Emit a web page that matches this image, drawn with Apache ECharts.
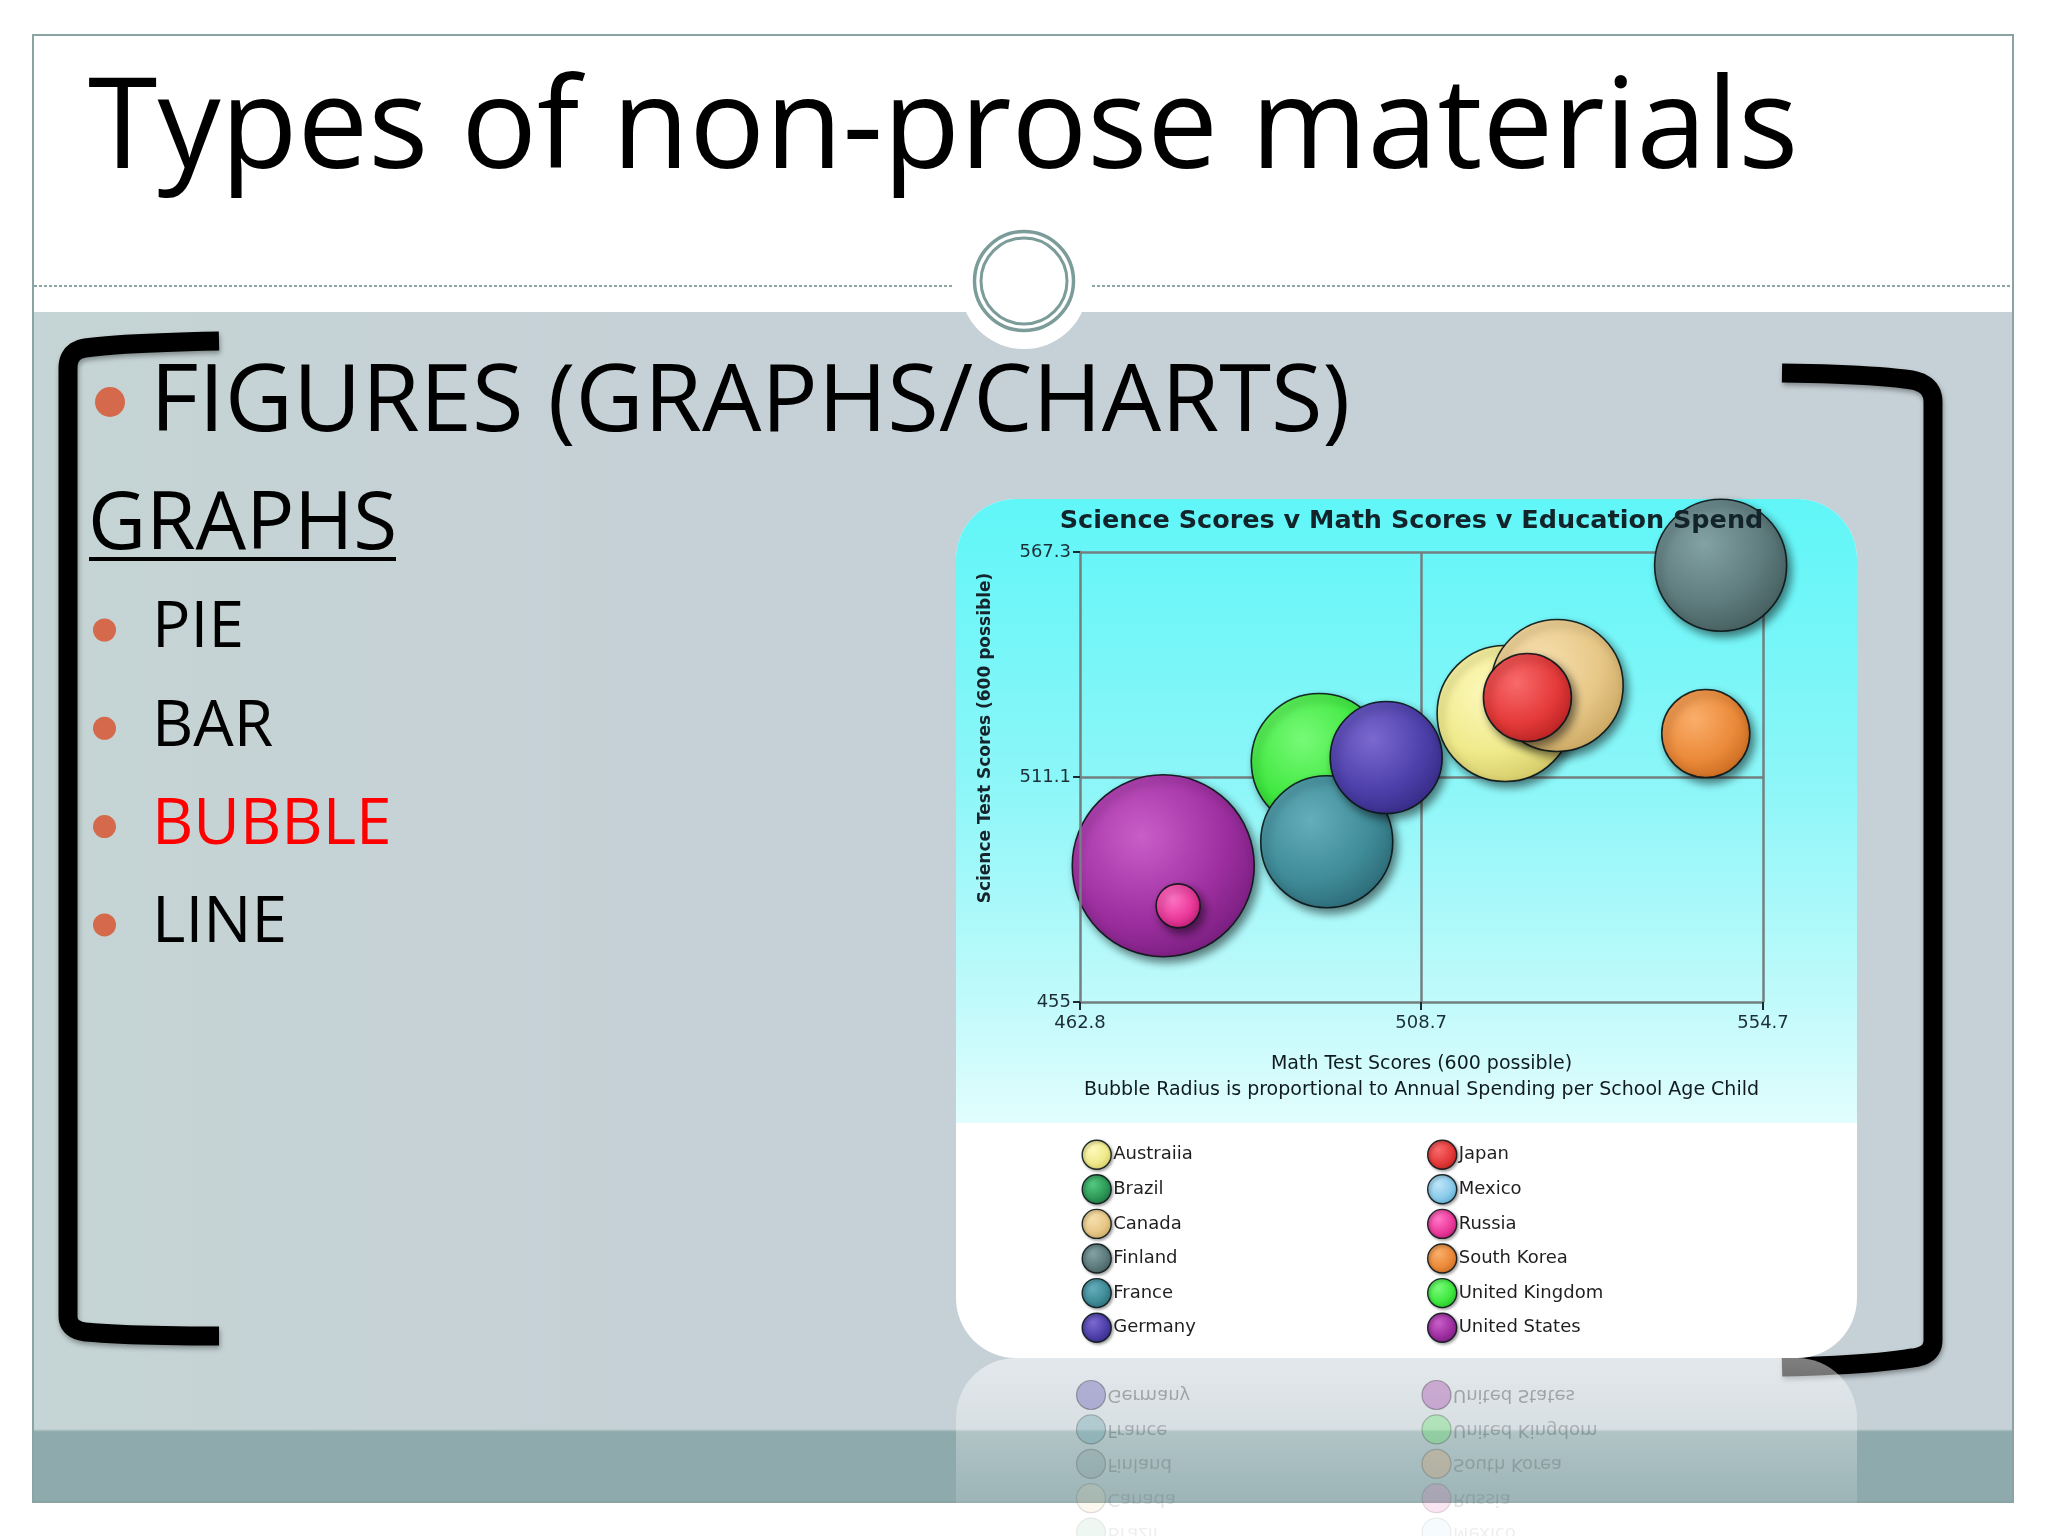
<!DOCTYPE html>
<html>
<head>
<meta charset="utf-8">
<script src="https://cdn.jsdelivr.net/npm/echarts@6/dist/echarts.min.js"></script>
<style>
html,body{margin:0;padding:0;background:#ffffff;}
#chart{width:2048px;height:1536px;}
</style>
</head>
<body>
<div id="chart"></div>
<script>
// ---------------- text content ----------------
const slideTitle = 'Types of non-prose materials';
const headingText = 'FIGURES (GRAPHS/CHARTS)';
const subHeading = 'GRAPHS';
const bulletItems = ['PIE', 'BAR', 'BUBBLE', 'LINE'];
const chartTitle = 'Science Scores v Math Scores v Education Spend';
const xAxisName = 'Math Test Scores (600 possible)';
const xAxisNote = 'Bubble Radius is proportional to Annual Spending per School Age Child';
const yAxisName = 'Science Test Scores (600 possible)';

// ---------------- axis ticks ----------------
const xTicks = [462.8, 508.7, 554.7];
const yTicks = [455, 511.1, 567.3];

// ---------------- data (legend order) ----------------
const countries = ['Austraiia', 'Brazil', 'Canada', 'Finland', 'France', 'Germany',
                   'Japan', 'Mexico', 'Russia', 'South Korea', 'United Kingdom', 'United States'];
const mathScores    = [520, 370, 527, 549, 496, 504, 523, 406, 476, 547, 495, 474];
const scienceScores = [527, 390, 534, 564, 495, 516, 531, 410, 479, 522, 515, 489];
// annual spending per school-age child (relative units, read from bubble radii)
const spending      = [6800, 1800, 6600, 6600, 6600, 5600, 4400, 2400, 2200, 4400, 6800, 9100];

// ---------------- styles ----------------
const palette = {
  'Austraiia':      ['#fdf9bc', '#efea8b', '#d2c766'],
  'Brazil':         ['#55c880', '#2e9b58', '#1d7040'],
  'Canada':         ['#f6dfad', '#e7c787', '#c9a660'],
  'Finland':        ['#83a2a4', '#5e7b7d', '#455e5e'],
  'France':         ['#64adba', '#408c99', '#2c6a76'],
  'Germany':        ['#7b69cf', '#4e40ab', '#352b84'],
  'Japan':          ['#f86a6a', '#e53a3a', '#b82222'],
  'Mexico':         ['#bde5f7', '#8ccbea', '#5aa8d0'],
  'Russia':         ['#ff76c6', '#ec3b9c', '#bf1e77'],
  'South Korea':    ['#faae6b', '#eb8a3a', '#c86a20'],
  'United Kingdom': ['#78fa78', '#40e840', '#22be22'],
  'United States':  ['#c95ec8', '#9f30a1', '#781d7e']
};
const drawOrder = ['United States', 'United Kingdom', 'France', 'Germany', 'Russia',
                   'Austraiia', 'Canada', 'Japan', 'South Korea', 'Finland', 'Brazil', 'Mexico'];
const RADIUS_PER_UNIT = 0.01;   // px of radius per spending unit
const AXIS_COLOR = '#737f80';
const LABEL_FONT = 'DejaVu Sans';
const CHART_FONT = 'DejaVu Sans';
const SLIDE_FONT = 'Open Sans';

function bubbleFill(name) {
  const c = palette[name];
  return {
    type: 'radial', x: 0.38, y: 0.34, r: 0.72,
    colorStops: [
      { offset: 0, color: c[0] },
      { offset: 0.62, color: c[1] },
      { offset: 1, color: c[2] }
    ]
  };
}

// ---------------- series ----------------
const offRange = new Set(['Brazil', 'Mexico']);
const series = drawOrder.map(function (name) {
  const i = countries.indexOf(name);
  return {
    name: name,
    type: 'scatter',
    z: 5,
    clip: offRange.has(name),          // off-range countries are clipped away by the grid
    silent: true,
    data: [[mathScores[i], scienceScores[i], spending[i]]],
    symbol: 'circle',
    symbolSize: function (v) { return v[2] * RADIUS_PER_UNIT * 2; },
    itemStyle: {
      opacity: 1,
      color: bubbleFill(name),
      borderColor: 'rgba(12,22,24,0.92)',
      borderWidth: 1.6,
      shadowColor: 'rgba(0,0,0,0.5)',
      shadowBlur: 9,
      shadowOffsetX: 4,
      shadowOffsetY: 5
    },
    emphasis: { disabled: true }
  };
});

// grid lines drawn above the bubbles (middle lines + top/right frame)
series.push({
  name: '__grid',
  type: 'scatter',
  z: 9,
  data: [],
  silent: true,
  markLine: {
    silent: true,
    symbol: ['none', 'none'],
    label: { show: false },
    animation: false,
    lineStyle: { color: AXIS_COLOR, width: 2.5, type: 'solid' },
    data: [
      { xAxis: xTicks[1] }, { xAxis: xTicks[2] },
      { yAxis: yTicks[1] }, { yAxis: yTicks[2] }
    ]
  }
});

// ---------------- layout constants ----------------
const PANEL = { x: 956, y: 499, w: 901, h: 859, r: 60, gradBottom: 1123 };
const LEG = { top: 1134.5, step: 34.4, icon: 29, cols: [1076.5, 1422] };
const MIRROR_Y = PANEL.y + PANEL.h;

// sample a chain of quadratic bezier segments into polyline points
function quadChain(start, segs) {
  const pts = [start.slice()];
  let p0 = start;
  segs.forEach(function (s) {
    const c = s[0], p1 = s[1];
    for (let t = 1; t <= 12; t++) {
      const u = t / 12;
      pts.push([
        (1 - u) * (1 - u) * p0[0] + 2 * (1 - u) * u * c[0] + u * u * p1[0],
        (1 - u) * (1 - u) * p0[1] + 2 * (1 - u) * u * c[1] + u * u * p1[1]
      ]);
    }
    p0 = p1;
  });
  return pts;
}

// ---------------- slide graphics ----------------
const graphics = [];
graphics.push({ type: 'rect', z: 0, shape: { x: 33, y: 312, width: 1980, height: 1118 },
  style: { fill: { type: 'linear', x: 0, y: 0, x2: 1, y2: 0,
    colorStops: [{ offset: 0, color: '#c5d4d4' }, { offset: 0.3, color: '#c6d1d7' }, { offset: 1, color: '#c6d1d7' }] } } });
graphics.push({ type: 'rect', z: 0, shape: { x: 33, y: 1430, width: 1980, height: 72 },
  style: { fill: '#8eaaad' } });
graphics.push({ type: 'line', z: 0, shape: { x1: 33, y1: 1430.5, x2: 2013, y2: 1430.5 },
  style: { stroke: '#a7bcbd', lineWidth: 1.5 } });
graphics.push({ type: 'rect', z: 0, shape: { x: 33, y: 35, width: 1980, height: 1467 },
  style: { fill: null, stroke: '#8aa3a3', lineWidth: 2 } });
graphics.push({ type: 'line', z: 0, shape: { x1: 34, y1: 286, x2: 953, y2: 286 },
  style: { stroke: '#8aa5a3', lineWidth: 2, lineDash: [3, 2] } });
graphics.push({ type: 'line', z: 0, shape: { x1: 1092, y1: 286, x2: 2012, y2: 286 },
  style: { stroke: '#8aa5a3', lineWidth: 2, lineDash: [3, 2] } });
graphics.push({ type: 'circle', z: 0, shape: { cx: 1024, cy: 285, r: 64 }, style: { fill: '#ffffff' } });
graphics.push({ type: 'circle', z: 0, shape: { cx: 1024, cy: 281, r: 49.5 },
  style: { fill: null, stroke: '#7b9c99', lineWidth: 3.5 } });
graphics.push({ type: 'circle', z: 0, shape: { cx: 1024, cy: 281, r: 43 },
  style: { fill: null, stroke: '#7b9c99', lineWidth: 3 } });
graphics.push({ type: 'text', z: 1, style: { text: slideTitle, x: 88, y: 132,
  font: '126px "' + SLIDE_FONT + '"', fill: '#000000', align: 'left', verticalAlign: 'middle',
  textAlign: 'left', textVerticalAlign: 'middle' } });
graphics.push({ type: 'circle', z: 1, shape: { cx: 110, cy: 402, r: 15 }, style: { fill: '#d5694b' } });
graphics.push({ type: 'text', z: 1, style: { text: headingText, x: 150, y: 404,
  font: '94px "' + SLIDE_FONT + '"', fill: '#000000', align: 'left', verticalAlign: 'middle',
  textAlign: 'left', textVerticalAlign: 'middle' } });
graphics.push({ type: 'text', z: 1, style: { text: subHeading, x: 88, y: 526,
  font: '80px "' + SLIDE_FONT + '"', fill: '#000000', align: 'left', verticalAlign: 'middle',
  textAlign: 'left', textVerticalAlign: 'middle' } });
graphics.push({ type: 'line', z: 1, shape: { x1: 89, y1: 559, x2: 396, y2: 559 },
  style: { stroke: '#000000', lineWidth: 4 } });
bulletItems.forEach(function (t, k) {
  const cy = 629 + k * 98.3;
  graphics.push({ type: 'circle', z: 1, shape: { cx: 104.5, cy: cy + 1, r: 11.5 }, style: { fill: '#d5694b' } });
  graphics.push({ type: 'text', z: 1, style: { text: t, x: 152, y: cy,
    font: '64px "' + SLIDE_FONT + '"', fill: t === 'BUBBLE' ? '#ff0000' : '#000000',
    align: 'left', verticalAlign: 'middle', textAlign: 'left', textVerticalAlign: 'middle' } });
});
const bracketStyle = { fill: null, stroke: '#000000', lineWidth: 19, lineCap: 'butt', lineJoin: 'round',
  shadowBlur: 5, shadowColor: 'rgba(0,0,0,0.35)', shadowOffsetX: 1, shadowOffsetY: 3 };
graphics.push({ type: 'polyline', z: 1, shape: { points: quadChain([219, 341], [
    [[120, 343], [85, 348]], [[68, 351], [68, 368]], [[68, 840], [68, 1316]],
    [[68, 1330], [86, 1332]], [[130, 1336], [219, 1336]]]) }, style: bracketStyle });
graphics.push({ type: 'polyline', z: 1, shape: { points: quadChain([1782, 373], [
    [[1870, 374], [1912, 380]], [[1933, 384], [1933, 402]], [[1933, 870], [1933, 1340]],
    [[1933, 1356], [1912, 1358]], [[1870, 1365], [1782, 1367]]]) }, style: bracketStyle });
graphics.push({ type: 'rect', z: 1, shape: { x: PANEL.x, y: PANEL.y, width: PANEL.w, height: PANEL.h, r: PANEL.r },
  style: { fill: '#ffffff' } });
graphics.push({ type: 'rect', z: 1, shape: { x: PANEL.x, y: PANEL.y, width: PANEL.w, height: PANEL.gradBottom - PANEL.y,
  r: [PANEL.r, PANEL.r, 0, 0] },
  style: { fill: { type: 'linear', x: 0, y: 0, x2: 0, y2: 1, colorStops: [
    { offset: 0, color: '#60f6f8' }, { offset: 0.45, color: '#8cf6f8' },
    { offset: 0.8, color: '#c0fafb' }, { offset: 1, color: '#e2fdfd' }] } } });
graphics.push({ type: 'rect', z: 1, shape: { x: PANEL.x, y: MIRROR_Y, width: PANEL.w, height: 1536 - MIRROR_Y,
  r: [PANEL.r, PANEL.r, 0, 0] },
  style: { fill: { type: 'linear', x: 0, y: 0, x2: 0, y2: 1, colorStops: [
    { offset: 0, color: 'rgba(255,255,255,0.5)' }, { offset: 0.6, color: 'rgba(255,255,255,0.22)' },
    { offset: 1, color: 'rgba(255,255,255,0.05)' }] } } });
countries.forEach(function (name, i) {
  const col = i < 6 ? 0 : 1;
  const row = i % 6;
  const cy = LEG.top + LEG.icon / 2 + row * LEG.step;
  const my = 2 * MIRROR_Y - cy;
  if (my > 1550) return;
  const op = Math.max(0.08, 0.4 * (1 - (my - MIRROR_Y) / 210));
  const ix = LEG.cols[col] + LEG.icon / 2;
  graphics.push({ type: 'circle', z: 2, shape: { cx: ix, cy: my, r: LEG.icon / 2 },
    style: { fill: palette[name][1], stroke: '#222', lineWidth: 1.2, opacity: op } });
  graphics.push({ type: 'text', z: 2, x: LEG.cols[col] + LEG.icon + 2, y: my, scaleY: -1,
    style: { text: name, x: 0, y: 0, font: '18px "' + LABEL_FONT + '"', fill: '#222222', opacity: op,
      align: 'left', verticalAlign: 'middle', textAlign: 'left', textVerticalAlign: 'middle' } });
});

// ---------------- option ----------------
const legendCommon = {
  orient: 'vertical',
  top: LEG.top,
  itemWidth: LEG.icon,
  itemHeight: LEG.icon,
  itemGap: 4.2,
  icon: 'circle',
  selectedMode: false,
  z: 10,
  textStyle: { fontFamily: LABEL_FONT, fontSize: 18, color: '#1f1f1f', padding: [0, 0, 0, -3] },
  itemStyle: { opacity: 1, borderColor: 'rgba(12,22,24,0.9)', borderWidth: 1.4, shadowBlur: 3,
    shadowOffsetX: 1.5, shadowOffsetY: 1.5, shadowColor: 'rgba(0,0,0,0.35)' }
};

const option = {
  backgroundColor: '#ffffff',
  animation: false,
  title: {
    text: chartTitle,
    left: PANEL.x + PANEL.w / 2,
    textAlign: 'center',
    top: 503,
    z: 10,
    textStyle: { fontFamily: CHART_FONT, fontWeight: 'bold', fontSize: 25.5, color: '#13232a' }
  },
  legend: [
    Object.assign({}, legendCommon, { left: LEG.cols[0], data: countries.slice(0, 6) }),
    Object.assign({}, legendCommon, { left: LEG.cols[1], data: countries.slice(6) })
  ],
  grid: { left: 1080, top: 552, width: 683, height: 450, containLabel: false },
  xAxis: {
    type: 'value',
    min: xTicks[0], max: xTicks[xTicks.length - 1],
    z: 10,
    name: xAxisName + '\n' + xAxisNote,
    nameLocation: 'middle',
    nameGap: 49,
    nameTextStyle: { fontFamily: CHART_FONT, fontWeight: 'normal', fontSize: 19, color: '#0f1b20', lineHeight: 26 },
    axisLine: { show: true, lineStyle: { color: AXIS_COLOR, width: 2.5 } },
    axisTick: { show: true, length: 8, customValues: xTicks, lineStyle: { color: '#1a2a30', width: 2 } },
    axisLabel: { customValues: xTicks, margin: 12, fontFamily: LABEL_FONT, fontSize: 18, color: '#1d2f36',
      formatter: function (v) { return (+v).toFixed(1).replace(/\.0$/, ''); } },
    splitLine: { show: false }
  },
  yAxis: {
    type: 'value',
    min: yTicks[0], max: yTicks[yTicks.length - 1],
    z: 10,
    name: yAxisName,
    nameLocation: 'middle',
    nameRotate: 90,
    nameGap: 86,
    nameTextStyle: { fontFamily: CHART_FONT, fontWeight: 'bold', fontSize: 17, color: '#16252b',
      padding: [0, 0, 0, 78] },
    axisLine: { show: true, lineStyle: { color: AXIS_COLOR, width: 2.5 } },
    axisTick: { show: true, length: 7, customValues: yTicks, lineStyle: { color: '#1a2a30', width: 2 } },
    axisLabel: { customValues: yTicks, margin: 9, fontFamily: LABEL_FONT, fontSize: 18, color: '#1d2f36',
      formatter: function (v) { return (+v).toFixed(1).replace(/\.0$/, ''); } },
    splitLine: { show: false }
  },
  graphic: { elements: graphics },
  series: series
};

const chart = echarts.init(document.getElementById('chart'), null, { renderer: 'canvas', width: 2048, height: 1536 });
chart.setOption(option);
</script>
</body>
</html>
